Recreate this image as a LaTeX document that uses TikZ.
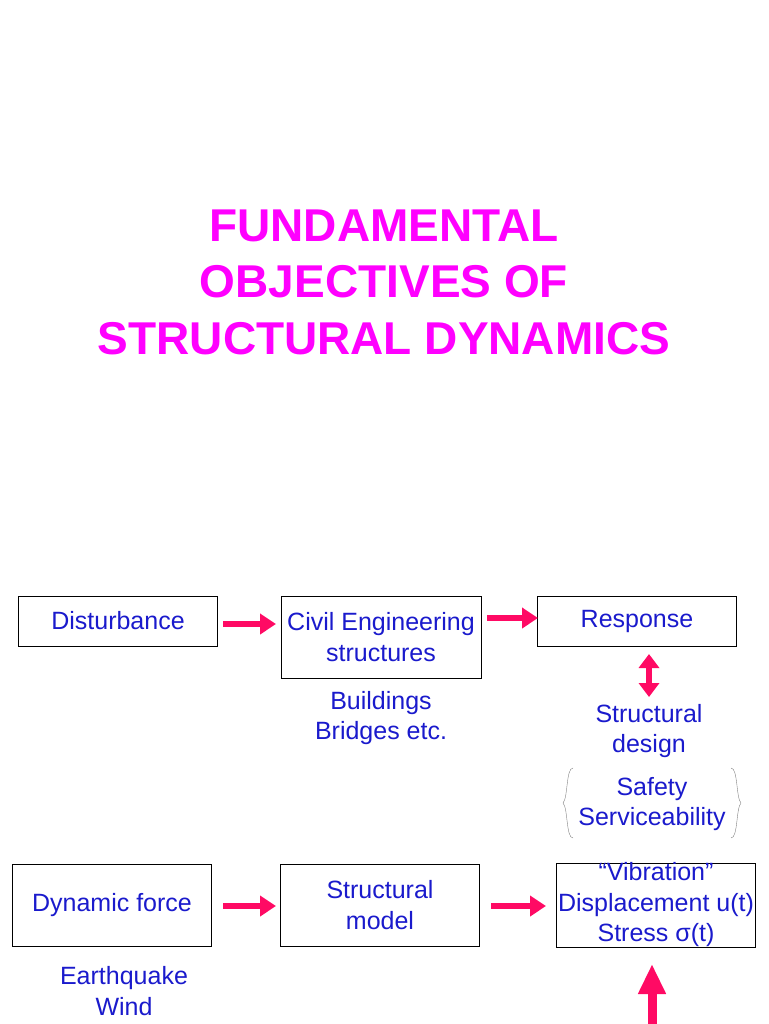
\documentclass[tikz,border=0pt]{standalone}
\usepackage{fontspec}
\setmainfont{Liberation Sans}
\usetikzlibrary{arrows.meta}
\definecolor{txtblue}{HTML}{1A1ACC}
\definecolor{arrred}{HTML}{FF0A64}
\definecolor{titlemag}{HTML}{FF00FF}
\tikzset{
  box/.style={draw, thin, minimum width=199pt, align=center, font=\fontsize{25}{30.5}\selectfont, text=txtblue},
  lbl/.style={align=center, font=\fontsize{25}{30.5}\selectfont, text=txtblue},
  blk/.style={arrred, line width=6pt, -{Triangle[width=20pt,length=16pt]}},
  dblk/.style={arrred, line width=6pt, {Triangle[width=20pt,length=14pt]}-{Triangle[width=20pt,length=14pt]}}
}
\begin{document}
\begin{tikzpicture}[x=1pt,y=-1pt]
  \useasboundingbox (0,0) rectangle (768,1024);
  % title
  \node[align=center, text=titlemag, font=\bfseries\fontsize{46}{56.5}\selectfont] (title) at (384,282)
    {FUNDAMENTAL\\OBJECTIVES OF\\STRUCTURAL DYNAMICS};
  % top row
  \node[box, minimum height=50pt] (dist) at (118,621) {Disturbance};
  \node[box, minimum height=82pt, minimum width=200pt] (civil) at (381,637) {Civil Engineering\\structures};
  \node[box, minimum height=50pt] (resp) at (637,621) {Response};
  \node[lbl] (build) at (381,718) {Buildings\\Bridges etc.};
  \node[lbl] (design) at (649,731) {Structural\\design};
  \node[lbl] (safety) at (652,804) {Safety\\Serviceability};
  % bottom row
  \node[box, minimum height=82pt] (dyn) at (112,905) {Dynamic force};
  \node[box, minimum height=82pt] (model) at (380,905) {Structural\\model};
  \node[box, minimum height=82pt, inner sep=0pt] (vib) at (656,905) {“Vibration”\\Displacement u(t)\\Stress σ(t)};
  \node[lbl] (quake) at (124,991) {Earthquake\\Wind};
  % braces
  \draw[gray] (573,768) .. controls (566,768) and (568,798) .. (563,803) .. controls (568,808) and (566,838) .. (573,838);
  \draw[gray] (731,768) .. controls (738,768) and (736,798) .. (741,803) .. controls (736,808) and (738,838) .. (731,838);
  % arrows
  \coordinate (a1) at (223,624); \coordinate (b1) at (276,624);
  \coordinate (a2) at (487,618); \coordinate (b2) at (538,618);
  \coordinate (a3) at (649,654); \coordinate (b3) at (649,697);
  \coordinate (a4) at (223,906); \coordinate (b4) at (276,906);
  \coordinate (a5) at (491,906); \coordinate (b5) at (546,906);
  \coordinate (a6) at (652,1024); \coordinate (b6) at (652,964);
  \draw[blk] (a1) -- (b1);
  \draw[blk] (a2) -- (b2);
  \draw[dblk] (a3) -- (b3);
  \draw[blk] (a4) -- (b4);
  \draw[blk] (a5) -- (b5);
  \draw[blk, line width=9pt, -{Triangle[width=26pt,length=30pt]}] (a6) -- (b6);
\end{tikzpicture}
\end{document}
